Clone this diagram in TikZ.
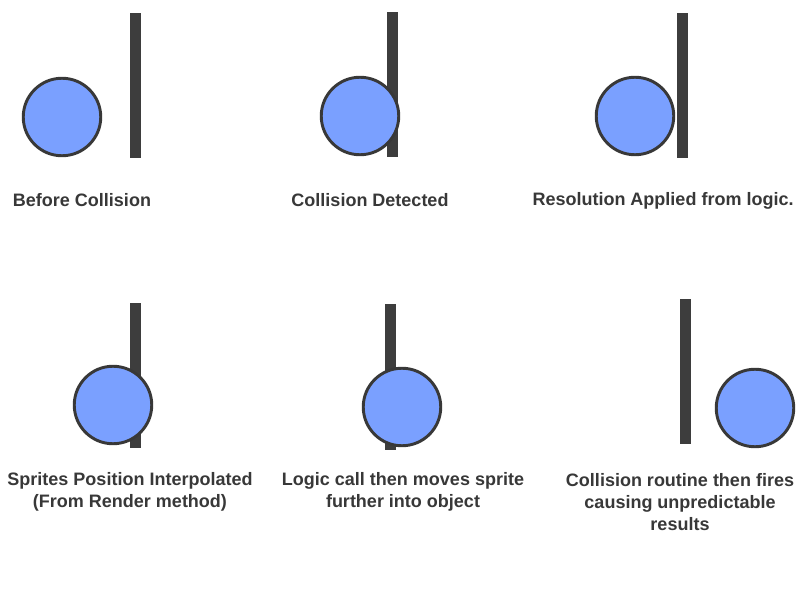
\documentclass[tikz,border=0pt]{standalone}
\usepackage{fontspec}
\setmainfont{Liberation Sans}
\begin{document}
\begin{tikzpicture}[x=0.75pt,y=-0.75pt,
  bar/.style={fill=black!76,draw=none},
  ball/.style={circle,minimum size=77.5pt*0.75,inner sep=0pt,fill={rgb,255:red,122;green,160;blue,255},draw=black!78,line width=2.2pt},
  lbl/.style={font=\bfseries\fontsize{13.5}{16.5}\selectfont,text=black!78,align=center,inner sep=0pt}]
\fill[white] (0,0) rectangle (800,600);
\useasboundingbox (0,0) rectangle (800,600);
% bars
\fill[bar] (130,13) rectangle (141,158);
\fill[bar] (387,12) rectangle (398,157);
\fill[bar] (677,13) rectangle (688,158);
\fill[bar] (130,303) rectangle (141,448);
\fill[bar] (385,304) rectangle (396,450);
\fill[bar] (680,299) rectangle (691,444);
% balls
\node[ball] (b1) at (62,117) {};
\node[ball] (b2) at (360,116) {};
\node[ball] (b3) at (635,116) {};
\node[ball] (b4) at (113,405) {};
\node[ball] (b5) at (402,407) {};
\node[ball] (b6) at (755,408) {};
% labels
\node[lbl] (t1) at (82,200) {Before Collision};
\node[lbl] (t2) at (370,200) {Collision Detected};
\node[lbl] (t3) at (663,201) {Resolution Applied from logic.};
\node[lbl] (t4) at (130,492) {Sprites Position Interpolated\\(From Render method)};
\node[lbl] (t5) at (403,492) {Logic call then moves sprite\\further into object};
\node[lbl] (t6) at (680,502) {Collision routine then fires\\causing unpredictable\\results};
\end{tikzpicture}
\end{document}
